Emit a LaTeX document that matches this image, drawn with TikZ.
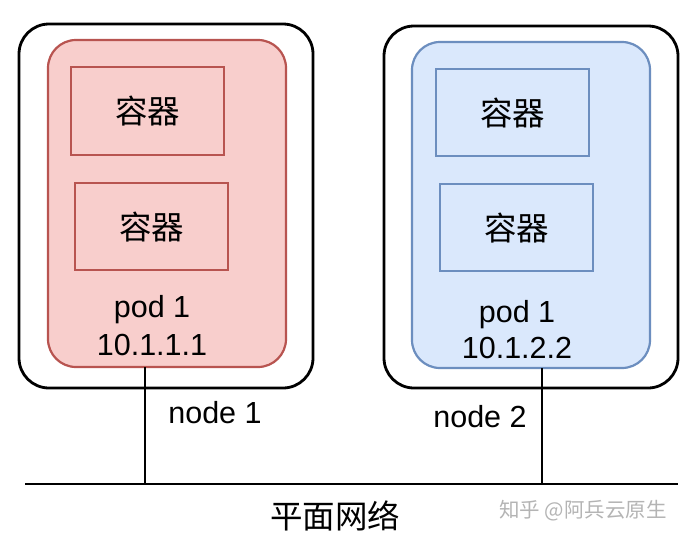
\documentclass[tikz,border=0pt]{standalone}
\usepackage{fontspec}
\setmainfont{Liberation Sans}
\newfontfamily\cjk{Noto Sans CJK SC}
\definecolor{redfill}{HTML}{F8CECC}
\definecolor{redline}{HTML}{B85450}
\definecolor{bluefill}{HTML}{DAE8FC}
\definecolor{blueline}{HTML}{6C8EBF}
\definecolor{wmgray}{HTML}{B4B4B4}
\begin{document}
\begin{tikzpicture}[x=1pt,y=-1pt,
  outerbox/.style={draw=black,line width=2.8pt,rounded corners=30pt,fill=white},
  podred/.style={draw=redline,line width=2.2pt,rounded corners=28pt,fill=redfill},
  podblue/.style={draw=blueline,line width=2.2pt,rounded corners=28pt,fill=bluefill},
  ctrred/.style={draw=redline,line width=2.2pt,fill=redfill},
  ctrblue/.style={draw=blueline,line width=2.2pt,fill=bluefill},
  cjklbl/.style={font=\cjk\fontsize{32.5}{36}\selectfont,inner sep=0pt},
  lbl/.style={font=\fontsize{30.5}{34}\selectfont,inner sep=0pt,anchor=base},
  wire/.style={draw=black,line width=2.8pt}]
\useasboundingbox (0,0) rectangle (685,536);
% node 1
\draw[outerbox] (19,24) rectangle (313,388);
\draw[podred] (48,40) rectangle (286,367);
\node[ctrred,minimum width=153pt,minimum height=88pt,anchor=north west] (c11) at (70,66) {};
\node[ctrred,minimum width=153pt,minimum height=87pt,anchor=north west] (c12) at (74,182) {};
\node[cjklbl] at (c11.center) {容器};
\node[cjklbl] at (c12.center) {容器};
\node[lbl] (p1a) at (152,317) {pod 1};
\node[lbl] (p1b) at (152,355) {10.1.1.1};
% node 2
\draw[outerbox] (384,26) rectangle (678,388);
\draw[podblue] (412,42) rectangle (650,368);
\node[ctrblue,minimum width=153pt,minimum height=87pt,anchor=north west] (c21) at (435,68) {};
\node[ctrblue,minimum width=153pt,minimum height=87pt,anchor=north west] (c22) at (439,183) {};
\node[cjklbl] at (c21.center) {容器};
\node[cjklbl] at (c22.center) {容器};
\node[lbl] (p2a) at (517,322) {pod 1};
\node[lbl] (p2b) at (517,358) {10.1.2.2};
% labels
\node[lbl] (n1) at (215,423) {node 1};
\node[lbl] (n2) at (480,427) {node 2};
% network
\coordinate (netL) at (25,484);
\coordinate (netR) at (678,484);
\coordinate (t1) at (145,367);
\coordinate (b1) at (145,484);
\coordinate (t2) at (542,368);
\coordinate (b2) at (542,484);
\draw[wire] (t1) -- (b1);
\draw[wire] (t2) -- (b2);
\draw[wire] (netL) -- (netR);
\node[cjklbl] (net) at (335,516) {平面网络};
\node[font=\cjk\fontsize{20.5}{22}\selectfont,text=wmgray,inner sep=0pt] (wm) at (583,511) {知乎 @阿兵云原生};
\end{tikzpicture}
\end{document}
